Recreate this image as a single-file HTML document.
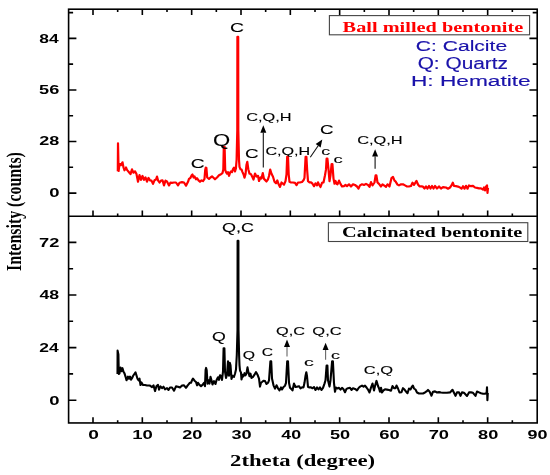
<!DOCTYPE html>
<html><head><meta charset="utf-8"><style>
html,body{margin:0;padding:0;background:#fff;width:550px;height:475px;overflow:hidden}
svg{display:block}
</style></head><body>
<svg width="550" height="475" viewBox="0 0 550 475">
<rect width="550" height="475" fill="#fff"/>
<rect x="68.6" y="9.2" width="468.6" height="413.75" fill="none" stroke="#000" stroke-width="1.6"/>
<line x1="68.6" y1="216.2" x2="537.2" y2="216.2" stroke="#000" stroke-width="1.6"/>
<path d="M93.00 9.2 v5.8 M93.00 216.2 v-5.8 M93.00 422.95 v-5.8 M117.67 9.2 v2.8 M117.67 216.2 v-2.8 M117.67 422.95 v-2.8 M142.33 9.2 v5.8 M142.33 216.2 v-5.8 M142.33 422.95 v-5.8 M167.00 9.2 v2.8 M167.00 216.2 v-2.8 M167.00 422.95 v-2.8 M191.67 9.2 v5.8 M191.67 216.2 v-5.8 M191.67 422.95 v-5.8 M216.33 9.2 v2.8 M216.33 216.2 v-2.8 M216.33 422.95 v-2.8 M241.00 9.2 v5.8 M241.00 216.2 v-5.8 M241.00 422.95 v-5.8 M265.67 9.2 v2.8 M265.67 216.2 v-2.8 M265.67 422.95 v-2.8 M290.33 9.2 v5.8 M290.33 216.2 v-5.8 M290.33 422.95 v-5.8 M315.00 9.2 v2.8 M315.00 216.2 v-2.8 M315.00 422.95 v-2.8 M339.66 9.2 v5.8 M339.66 216.2 v-5.8 M339.66 422.95 v-5.8 M364.33 9.2 v2.8 M364.33 216.2 v-2.8 M364.33 422.95 v-2.8 M389.00 9.2 v5.8 M389.00 216.2 v-5.8 M389.00 422.95 v-5.8 M413.66 9.2 v2.8 M413.66 216.2 v-2.8 M413.66 422.95 v-2.8 M438.33 9.2 v5.8 M438.33 216.2 v-5.8 M438.33 422.95 v-5.8 M463.00 9.2 v2.8 M463.00 216.2 v-2.8 M463.00 422.95 v-2.8 M487.66 9.2 v5.8 M487.66 216.2 v-5.8 M487.66 422.95 v-5.8 M512.33 9.2 v2.8 M512.33 216.2 v-2.8 M512.33 422.95 v-2.8 M68.6 193.10 h7.8 M537.2 193.10 h-7.8 M68.6 167.31 h4.5 M537.2 167.31 h-4.5 M68.6 141.53 h7.8 M537.2 141.53 h-7.8 M68.6 115.74 h4.5 M537.2 115.74 h-4.5 M68.6 89.96 h7.8 M537.2 89.96 h-7.8 M68.6 64.17 h4.5 M537.2 64.17 h-4.5 M68.6 38.39 h7.8 M537.2 38.39 h-7.8 M68.6 12.60 h4.5 M537.2 12.60 h-4.5 M68.6 400.20 h7.8 M537.2 400.20 h-7.8 M68.6 373.90 h4.5 M537.2 373.90 h-4.5 M68.6 347.60 h7.8 M537.2 347.60 h-7.8 M68.6 321.30 h4.5 M537.2 321.30 h-4.5 M68.6 295.00 h7.8 M537.2 295.00 h-7.8 M68.6 268.70 h4.5 M537.2 268.70 h-4.5 M68.6 242.40 h7.8 M537.2 242.40 h-7.8" stroke="#000" stroke-width="1.6" fill="none"/>
<text transform="translate(39.23 42.74) scale(1.324 1)" style="font-family:'Liberation Sans',Arial,sans-serif;font-weight:bold;font-size:13.18px" fill="#000">84</text>
<text transform="translate(39.11 94.16) scale(1.380 1)" style="font-family:'Liberation Sans',Arial,sans-serif;font-weight:bold;font-size:13.18px" fill="#000">56</text>
<text transform="translate(39.19 145.46) scale(1.369 1)" style="font-family:'Liberation Sans',Arial,sans-serif;font-weight:bold;font-size:13.18px" fill="#000">28</text>
<text transform="translate(49.16 197.08) scale(1.401 1)" style="font-family:'Liberation Sans',Arial,sans-serif;font-weight:bold;font-size:13.18px" fill="#000">0</text>
<text transform="translate(39.00 246.80) scale(1.385 1)" style="font-family:'Liberation Sans',Arial,sans-serif;font-weight:bold;font-size:13.18px" fill="#000">72</text>
<text transform="translate(39.51 299.40) scale(1.344 1)" style="font-family:'Liberation Sans',Arial,sans-serif;font-weight:bold;font-size:13.18px" fill="#000">48</text>
<text transform="translate(39.29 352.00) scale(1.325 1)" style="font-family:'Liberation Sans',Arial,sans-serif;font-weight:bold;font-size:13.18px" fill="#000">24</text>
<text transform="translate(49.16 404.68) scale(1.401 1)" style="font-family:'Liberation Sans',Arial,sans-serif;font-weight:bold;font-size:13.18px" fill="#000">0</text>
<text transform="translate(88.16 439.32) scale(1.452 1)" style="font-family:'Liberation Sans',Arial,sans-serif;font-weight:bold;font-size:13.18px" fill="#000">0</text>
<text transform="translate(132.31 439.30) scale(1.406 1)" style="font-family:'Liberation Sans',Arial,sans-serif;font-weight:bold;font-size:13.18px" fill="#000">10</text>
<text transform="translate(182.18 439.18) scale(1.377 1)" style="font-family:'Liberation Sans',Arial,sans-serif;font-weight:bold;font-size:13.18px" fill="#000">20</text>
<text transform="translate(231.42 439.18) scale(1.381 1)" style="font-family:'Liberation Sans',Arial,sans-serif;font-weight:bold;font-size:13.18px" fill="#000">30</text>
<text transform="translate(281.21 439.30) scale(1.354 1)" style="font-family:'Liberation Sans',Arial,sans-serif;font-weight:bold;font-size:13.18px" fill="#000">40</text>
<text transform="translate(329.99 439.30) scale(1.380 1)" style="font-family:'Liberation Sans',Arial,sans-serif;font-weight:bold;font-size:13.18px" fill="#000">50</text>
<text transform="translate(379.33 439.29) scale(1.395 1)" style="font-family:'Liberation Sans',Arial,sans-serif;font-weight:bold;font-size:13.18px" fill="#000">60</text>
<text transform="translate(428.68 439.30) scale(1.390 1)" style="font-family:'Liberation Sans',Arial,sans-serif;font-weight:bold;font-size:13.18px" fill="#000">70</text>
<text transform="translate(478.08 439.18) scale(1.380 1)" style="font-family:'Liberation Sans',Arial,sans-serif;font-weight:bold;font-size:13.18px" fill="#000">80</text>
<text transform="translate(527.51 439.34) scale(1.366 1)" style="font-family:'Liberation Sans',Arial,sans-serif;font-weight:bold;font-size:13.18px" fill="#000">90</text>
<text transform="translate(230.08 465.87) scale(1.355 1)" style="font-family:'Liberation Serif','Times New Roman',serif;font-weight:bold;font-size:16.74px" fill="#000">2theta (degree)</text>
<text transform="translate(20.55 270.96) scale(1.382 1) rotate(-90)" style="font-family:'Liberation Serif','Times New Roman',serif;font-weight:bold;font-size:15.92px" fill="#000">Intensity (counts)</text>
<rect x="329.4" y="15.6" width="200.2" height="19.2" fill="#fff" stroke="#444" stroke-width="1.1"/>
<text transform="translate(342.60 31.60) scale(1.410 1)" style="font-family:'Liberation Serif','Times New Roman',serif;font-weight:bold;font-size:14.41px" fill="#ff0000">Ball milled bentonite</text>
<rect x="328.4" y="222.7" width="199.4" height="18.8" fill="#fff" stroke="#444" stroke-width="1.1"/>
<text transform="translate(342.01 237.05) scale(1.320 1)" style="font-family:'Liberation Serif','Times New Roman',serif;font-weight:bold;font-size:15.42px" fill="#000">Calcinated bentonite</text>
<text transform="translate(415.84 51.30) scale(1.362 1)" style="font-family:'Liberation Sans',Arial,sans-serif;font-size:15.47px" fill="#1a12aa" stroke="#1a12aa" stroke-width="0.15">C: Calcite</text>
<text transform="translate(417.63 69.04) scale(1.336 1)" style="font-family:'Liberation Sans',Arial,sans-serif;font-size:15.62px" fill="#1a12aa" stroke="#1a12aa" stroke-width="0.15">Q: Quartz</text>
<text transform="translate(410.93 86.25) scale(1.508 1)" style="font-family:'Liberation Sans',Arial,sans-serif;font-size:15.06px" fill="#1a12aa" stroke="#1a12aa" stroke-width="0.15">H: Hematite</text>
<polyline points="117.8,171.3 118,143.3 118.6,171 119.5,164 121,165.1 122.5,162.3 123.5,167.5 124.5,170.3 126,167.5 127,169.9 129,172.2 130.5,174.1 132,169.4 133.5,172.7 135,171.3 136.5,174.1 138,181.7 139.5,175.1 141,179.8 142.5,176 144,179.8 145.5,177.4 147,181.7 148.5,177.9 150,180.3 151.5,180.6 153,183.9 154.5,180.3 156,179.5 157,176.6 158,180.3 159.5,182.5 161,180.6 162.5,180.3 164,185.4 165.5,180.6 167,181.4 169,185.4 170.5,182.5 172,182.8 174,182.5 176,182.5 178,185.4 179.5,182.8 182,182.1 184,182.5 186,185.7 188,181.8 189,178.9 190.5,177.8 191.5,175.6 192.5,174.5 193.5,177.5 194.5,176.4 196,179.3 197,178.2 198.5,180.4 200,181.8 201.5,180.4 203,181.1 204.5,178.9 205.2,170 205.8,167.6 206.4,168 207.2,177.5 209,178.9 210.5,177.5 212,176.4 213.5,177.8 215,179.3 217,177.5 219,175.3 221,174.2 222.5,173.1 223.3,169.5 223.8,146.8 224.6,146.8 225.2,169.9 226,172.1 227,173.6 228,172.1 229,175.8 230,172.8 231,171.4 232,172.1 233,169.2 234,167.7 235,171.4 235.9,168.4 236.6,160 237.3,130 237.4,36.9 238.2,36.9 238.3,130 239,160 239.5,166.9 240.5,169.2 241.5,169.5 242.5,172.1 243.5,174.3 244.5,177.6 245.5,174.3 246.5,164.7 247.3,161.8 248.3,169.2 249.5,173.6 251,174.3 252.5,177.3 253.5,179.5 255,173.6 256.5,176.5 258,175.8 259,181 260.5,177.5 261.5,178.5 262.8,173.1 264,178.9 265.5,180.4 266.5,181.5 268,179.3 269,176 270.2,169.5 271.5,173.8 273,176.7 274.5,181.8 276,183.3 277.3,180.4 278.5,184 280,186.9 281.5,182.5 282.5,183.3 284,184.7 285.5,181.1 286.5,174.5 287.2,156.6 288,156.6 288.7,174.5 289.5,181.8 291,182.5 293,182.5 295,182.9 296.5,185.1 298,182.5 300,182.4 302,182 303.5,180.3 304.5,177.8 305.6,156.9 306.4,156.9 307.2,171 308,181.2 309.5,182.4 311,182.4 312.5,183.7 314,186.2 315.5,183.3 317,185.4 318,182.4 319,184.5 320.5,187 322,182.8 323.5,182.4 325,175.3 326,169.4 326.6,158.7 327.4,158.7 328.5,169.4 329.5,181.2 330.5,175.3 331.6,164.2 332.4,164.2 333.5,178.6 334.5,183.7 335.5,181 336.5,183.7 337.5,184.3 339,180.6 340.5,183.9 342,186.5 344,186.1 345.5,185 347,186.1 349,184.3 351,186.5 353,184.3 355,185 357,186.5 358.5,188.6 360,185.4 362,184.3 364,185 366,183.9 368,185 369.5,186.8 371,182.1 372.5,185.4 374.5,182.5 375.6,175.3 376.4,175.3 377.5,182.5 379,183.9 381,186.5 382.5,184.3 384,185.4 386,186.8 387.5,184.3 389.5,186.5 391.5,178.1 393,176.9 394.5,180.6 395.5,181.4 397.5,184.6 399,185.4 401,184.3 403,184.3 405,185.4 407,186.5 409,186.4 411,186 412.5,182.7 414,184.9 416.5,180.9 418,184.5 419.5,186.4 421.5,186.4 423,186.7 424.5,188.5 426,186.4 427.5,188.5 429,186 430.5,188.5 432,186 433.5,188.5 435,186 437,188.5 439,186.4 441,188.5 443,187.1 446,187.5 448,188.7 450,187.5 451.5,185.4 452.8,182.7 454,185.8 456,186.2 458,186.6 460,187.5 461.5,188.7 463,186.2 464.5,188.7 466,185.8 467.5,188.7 469,185.4 471,186.2 473,185.8 475,187.5 477,187.9 479,188.3 481,188.3 483,189.6 484,187.5 485,190.4 486,186.6 487,185.4 487.5,192.9 488,188" fill="none" stroke="#ff0000" stroke-width="2.2" stroke-linejoin="round"/>
<polyline points="117.5,374 117.6,350.6 118.4,354.5 118.8,374 119.5,373.4 120.5,367.6 121.5,371.3 122.5,368.2 123.5,371.8 124.5,373.4 125.5,376.6 126.5,380.3 128,376.6 129,378.7 130,376.6 131,379.7 132,378.2 133,376 134,374.5 135.5,372.4 136.5,375.5 137.5,378.7 138.5,380.3 139.5,378.7 140.5,385 141.5,382.4 143,385 145,385 147,385.5 149,385.5 150,385.6 152,387.1 153.5,385.3 155,391.1 156.5,386 158,384.9 159,389.6 160.5,386.4 162,388.2 163.5,386.7 165,389.3 167,388.2 168.5,390 170,387.5 172,387.5 174,390.7 176,386.4 178,386.7 180,387.5 182,385.6 184,385.3 186,387.8 187.5,385.6 189,383.8 190,382.7 191,382.8 192,380.3 193,378.6 194.5,380.7 196,382 197,385.3 198,382.8 199.5,384.9 201,386.2 202.5,384.9 204,382.8 205,386.2 205.6,370 206.1,367.9 206.7,370.2 207.5,383.6 208.5,380.3 209.5,383.6 210.5,376.9 211.5,380.3 212.5,384.5 214,381.1 215.5,384 216.5,380.3 218,377.3 219,379.8 220,375.2 221,375.8 222,380 223,371.6 223.6,348.3 224.4,348.3 225,371.6 226,377.9 227,374.7 228,361.3 229,375.8 229.8,362.9 230.5,365.3 231.5,379 232.5,375.8 234,376.8 235,373.7 236,369.5 236.8,355 237.5,330 237.6,240.9 238.4,240.9 238.5,330 239.1,355 239.5,365.3 240,370.5 241,372.6 241.5,379.5 242.5,374.7 243.5,376.3 244.5,373.2 245.5,375.3 246.5,373.2 247.5,367.4 248.5,372.6 249.5,376.3 250.5,373.7 251.5,377.9 253,376.8 254.5,374.7 256,372.1 257.5,374.7 259,378.6 260,386.6 261,382.8 262,382 263.5,380.7 265,381.1 266.5,384 268,382.8 269,380.3 270.4,361.4 271.2,361.4 272,378.6 273.5,385.3 275,388.7 276.5,385.3 278,388.3 279.5,390.4 281,387.4 282,389.5 283.5,387 285,385.7 286,382.8 287.2,361.4 288,361.4 289,382.8 290,387.8 291.5,389.1 292.5,390.4 294,383.6 295.5,387 297.5,386.6 299,386.2 300.5,388.3 302,387.4 303.5,387.4 304.5,382.8 305.5,376 306.3,372.2 307,376 308,387 309.5,387.4 311,387.4 312.5,388.3 314,387 315.5,390 317,387.4 318.5,389.5 320,387.4 321.5,390 323,387.8 324.5,383.6 325.5,380.3 326.6,365.5 327.4,365.5 328,380.3 329.5,386.6 330.5,380.3 332.1,361.4 332.9,361.4 334,383.1 335,391.8 336,387.5 337.5,388.5 339,387.8 340.5,389.6 342,387.8 343.5,389.3 345,392.2 346.5,388.9 348,388.2 350,387.8 351.5,390 353,388.2 355,388.9 357,390.4 359,387.5 360.5,386.4 362,385.6 363.5,386.7 365,385.6 366.5,387.5 368,389.6 369.5,392.5 371,387.5 372.5,383.5 374,390.4 375,386 376.5,380.9 378,386 379,388.2 380,391.8 381,387.8 382,392.5 383.5,390.4 385,389.3 387,389.6 389,390 391,390.7 392.5,386 394,388.2 395.5,388.2 396.5,385.6 398,388.5 399.5,392.5 401.5,392.2 403,388.2 404.5,389.6 406,391.5 407.5,393.2 409,388.5 410.5,389.5 411.5,387.4 412.8,385.5 414,388.5 415.5,389.5 417,392.5 419,393.5 421,393.5 423,393.5 425,392.5 426.5,391.4 428,389.9 429.5,391.4 431.5,395.7 433,391.7 435,391.4 437,392.5 439,392.1 441,392.5 443,392.8 447,392.8 450,392.4 452.5,389.8 454,392.8 455.5,395.9 457,392.4 459,392.4 460.5,395.9 462,392.4 464,392.8 467,395.9 469,392.4 471,392.4 473,392.8 475.5,395.9 477,391.5 479,392.4 481,393.3 483,393.7 485,393.7 486.6,393 487,387.2 487.4,400.2 487.8,393" fill="none" stroke="#000" stroke-width="2.1" stroke-linejoin="round"/>
<text transform="translate(229.98 32.25) scale(1.434 1)" style="font-family:'Liberation Sans',Arial,sans-serif;font-size:13.61px" fill="#000" stroke="#000" stroke-width="0.12">C</text>
<text transform="translate(190.78 168.45) scale(1.419 1)" style="font-family:'Liberation Sans',Arial,sans-serif;font-size:13.61px" fill="#000" stroke="#000" stroke-width="0.12">C</text>
<text transform="translate(213.00 145.99) scale(1.330 1)" style="font-family:'Liberation Sans',Arial,sans-serif;font-size:16.62px" fill="#000" stroke="#000" stroke-width="0.12">Q</text>
<text transform="translate(244.95 158.39) scale(1.501 1)" style="font-family:'Liberation Sans',Arial,sans-serif;font-size:12.61px" fill="#000" stroke="#000" stroke-width="0.12">C</text>
<text transform="translate(246.16 120.70) scale(1.390 1)" style="font-family:'Liberation Sans',Arial,sans-serif;font-size:11.75px" fill="#000" stroke="#000" stroke-width="0.12">C,Q,H</text>
<text transform="translate(265.39 155.20) scale(1.481 1)" style="font-family:'Liberation Sans',Arial,sans-serif;font-size:10.89px" fill="#000" stroke="#000" stroke-width="0.12">C,Q,H</text>
<text transform="translate(320.03 134.14) scale(1.475 1)" style="font-family:'Liberation Sans',Arial,sans-serif;font-size:12.75px" fill="#000" stroke="#000" stroke-width="0.12">C</text>
<text transform="translate(321.21 155.29) scale(1.650 1)" style="font-family:'Liberation Sans',Arial,sans-serif;font-size:10.78px" fill="#000" stroke="#000" stroke-width="0.12">c</text>
<text transform="translate(333.58 163.38) scale(1.762 1)" style="font-family:'Liberation Sans',Arial,sans-serif;font-size:10.41px" fill="#000" stroke="#000" stroke-width="0.12">c</text>
<text transform="translate(357.15 143.50) scale(1.397 1)" style="font-family:'Liberation Sans',Arial,sans-serif;font-size:11.75px" fill="#000" stroke="#000" stroke-width="0.12">C,Q,H</text>
<text transform="translate(222.01 231.93) scale(1.412 1)" style="font-family:'Liberation Sans',Arial,sans-serif;font-size:12.75px" fill="#000" stroke="#000" stroke-width="0.12">Q,C</text>
<text transform="translate(212.11 340.96) scale(1.409 1)" style="font-family:'Liberation Sans',Arial,sans-serif;font-size:12.61px" fill="#000" stroke="#000" stroke-width="0.12">Q</text>
<text transform="translate(242.73 359.03) scale(1.486 1)" style="font-family:'Liberation Sans',Arial,sans-serif;font-size:10.60px" fill="#000" stroke="#000" stroke-width="0.12">Q</text>
<text transform="translate(261.72 355.68) scale(1.453 1)" style="font-family:'Liberation Sans',Arial,sans-serif;font-size:10.74px" fill="#000" stroke="#000" stroke-width="0.12">C</text>
<text transform="translate(275.99 335.19) scale(1.457 1)" style="font-family:'Liberation Sans',Arial,sans-serif;font-size:11.17px" fill="#000" stroke="#000" stroke-width="0.12">Q,C</text>
<text transform="translate(304.05 366.12) scale(1.950 1)" style="font-family:'Liberation Sans',Arial,sans-serif;font-size:10.04px" fill="#000" stroke="#000" stroke-width="0.12">c</text>
<text transform="translate(312.36 335.23) scale(1.475 1)" style="font-family:'Liberation Sans',Arial,sans-serif;font-size:11.17px" fill="#000" stroke="#000" stroke-width="0.12">Q,C</text>
<text transform="translate(331.04 358.84) scale(1.631 1)" style="font-family:'Liberation Sans',Arial,sans-serif;font-size:10.97px" fill="#000" stroke="#000" stroke-width="0.12">c</text>
<text transform="translate(363.78 374.38) scale(1.474 1)" style="font-family:'Liberation Sans',Arial,sans-serif;font-size:11.17px" fill="#000" stroke="#000" stroke-width="0.12">C,Q</text>
<line x1="263.30" y1="167.40" x2="263.30" y2="132.70" stroke="#111" stroke-width="1.1"/>
<polygon points="263.30,125.30 266.30,132.70 260.30,132.70" fill="#000"/>
<line x1="310.30" y1="157.30" x2="318.15" y2="145.73" stroke="#111" stroke-width="1.1"/>
<polygon points="322.30,139.60 320.63,147.41 315.66,144.04" fill="#000"/>
<line x1="375.10" y1="168.80" x2="375.10" y2="156.60" stroke="#111" stroke-width="1.1"/>
<polygon points="375.10,149.20 378.10,156.60 372.10,156.60" fill="#000"/>
<line x1="287.00" y1="356.60" x2="287.00" y2="346.90" stroke="#666" stroke-width="1.1"/>
<polygon points="287.00,339.50 290.00,346.90 284.00,346.90" fill="#000"/>
<line x1="325.60" y1="359.80" x2="325.60" y2="350.10" stroke="#666" stroke-width="1.1"/>
<polygon points="325.60,342.70 328.60,350.10 322.60,350.10" fill="#000"/>
</svg>
</body></html>
